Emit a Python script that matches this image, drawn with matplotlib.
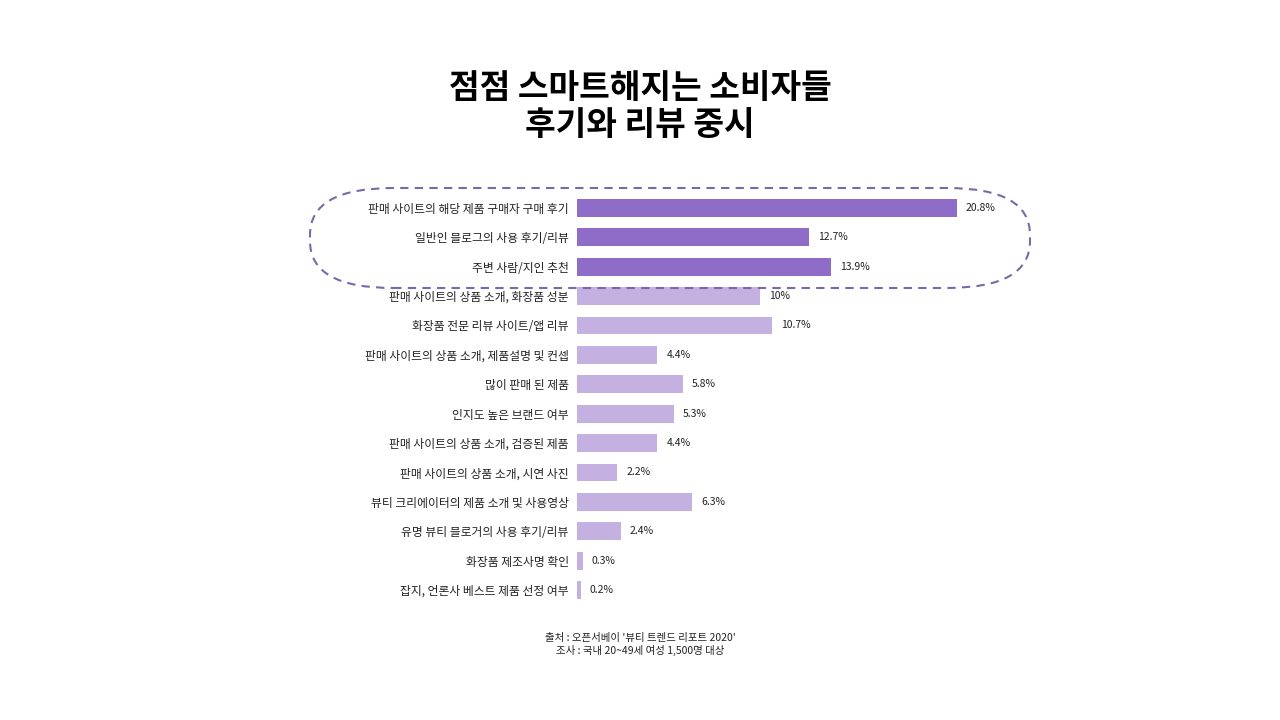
import matplotlib
matplotlib.use("Agg")
import matplotlib.pyplot as plt
from matplotlib.patches import FancyBboxPatch

plt.rcParams["font.family"] = ["Noto Sans CJK JP", "Noto Sans CJK KR",
                               "Noto Sans CJK SC", "DejaVu Sans"]

labels = [
    "판매 사이트의 해당 제품 구매자 구매 후기",
    "일반인 블로그의 사용 후기/리뷰",
    "주변 사람/지인 추천",
    "판매 사이트의 상품 소개, 화장품 성분",
    "화장품 전문 리뷰 사이트/앱 리뷰",
    "판매 사이트의 상품 소개, 제품설명 및 컨셉",
    "많이 판매 된 제품",
    "인지도 높은 브랜드 여부",
    "판매 사이트의 상품 소개, 검증된 제품",
    "판매 사이트의 상품 소개, 시연 사진",
    "뷰티 크리에이터의 제품 소개 및 사용영상",
    "유명 뷰티 블로거의 사용 후기/리뷰",
    "화장품 제조사명 확인",
    "잡지, 언론사 베스트 제품 선정 여부",
]
values = [20.8, 12.7, 13.9, 10, 10.7, 4.4, 5.8, 5.3, 4.4, 2.2, 6.3, 2.4, 0.3, 0.2]
value_text = ["20.8%", "12.7%", "13.9%", "10%", "10.7%", "4.4%", "5.8%", "5.3%",
              "4.4%", "2.2%", "6.3%", "2.4%", "0.3%", "0.2%"]

dark = "#8f6cc8"
light = "#c4b0e1"
colors = [dark] * 3 + [light] * 11

fig = plt.figure(figsize=(12.8, 7.2), dpi=100)
ax = fig.add_axes([0.4508, 0.16, 0.428, 0.5717])
ypos = list(range(len(values)))
ax.barh(ypos, values, height=0.6, color=colors)
ax.set_ylim(len(values) - 0.5, -0.5)
ax.set_xlim(0, 30)
ax.set_yticks(ypos)
ax.set_yticklabels(labels, fontsize=8.5, color="#222222")
ax.tick_params(axis="y", length=0, pad=6)
ax.set_xticks([])
for s in ax.spines.values():
    s.set_visible(False)
for y, v, t in zip(ypos, values, value_text):
    ax.text(v + 0.5, y, t, va="center", ha="left", fontsize=7.5, color="#222222")

fig.text(0.5, 0.9, "점점 스마트해지는 소비자들\n후기와 리뷰 중시", ha="center", va="top",
         fontsize=24, fontweight="bold", linespacing=1.15)

box = FancyBboxPatch((310 / 1280, 1 - 288 / 720), 720 / 1280, 100 / 720,
                     boxstyle="round,pad=0,rounding_size=0.065",
                     transform=fig.transFigure, fill=False,
                     edgecolor="#7b68a8", linestyle=(0, (4, 3)), linewidth=1.5)
fig.patches.append(box)

fig.text(0.5, 0.105, "출처 : 오픈서베이 '뷰티 트렌드 리포트 2020'\n조사 : 국내 20~49세 여성 1,500명 대상",
         ha="center", va="center", fontsize=7.5, color="#222222", linespacing=1.2)

fig.savefig("out.png", dpi=100)
